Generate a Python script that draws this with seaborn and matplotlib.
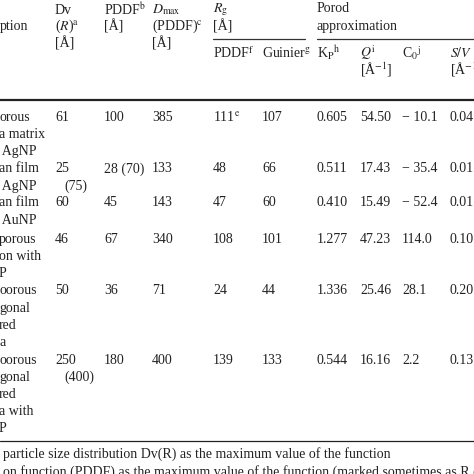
import matplotlib
matplotlib.use("Agg")
import matplotlib.pyplot as plt
import seaborn as sns

sns.set_theme(style="white")
plt.rcParams['font.family'] = ['Liberation Serif', 'DejaVu Serif']
plt.rcParams['mathtext.fontset'] = 'stix'

col_x = [55, 104, 152, 213, 262, 317, 360, 402, 450]
dv = ["61", "25", "60", "46", "50", "250"]
dv2 = ["", "(75)", "", "", "", "(400)"]
pddf = ["100", "28 (70)", "45", "67", "36", "180"]
dmax = ["385", "133", "143", "340", "71", "400"]
rg_pddf = ["111$^{\\mathrm{e}}$", "48", "47", "108", "24", "139"]
rg_guinier = ["107", "66", "60", "101", "44", "133"]
kp = ["0.605", "0.511", "0.410", "1.277", "1.336", "0.544"]
q = ["54.50", "17.43", "15.49", "47.23", "25.46", "16.16"]
c0 = ["\u2212 10.1", "\u2212 35.4", "\u2212 52.4", "114.0", "28.1", "2.2"]
sv = ["0.04", "0.01", "0.01", "0.10", "0.20", "0.13"]
desc = [["orous", "a matrix", " AgNP"], ["an film", " AgNP"], ["an film", " AuNP"],
        ["porous", "on with", "P"], ["oorous", "gonal", "red", "a"],
        ["oorous", "gonal", "red", "a with", "P"]]
row_y = [117, 169, 203, 239, 291, 360]
lh = 17.2
footnotes = ["particle size distribution Dv(R) as the maximum value of the function",
             "on function (PDDF) as the maximum value of the function (marked sometimes as R or D)"]

fig = plt.figure(figsize=(4.74, 4.74), dpi=100)
ax = fig.add_axes([0, 0, 1, 1])
ax.set_xlim(0, 474); ax.set_ylim(474, 0); ax.axis('off')
fs = 10
kw = dict(fontsize=fs, color='#222222', va='center', ha='left')

# header
ax.text(0, 26, "ption", **kw)
ax.text(col_x[0], 10, "Dv", **kw)
ax.text(col_x[0], 26, "($R$)$^{\\mathrm{a}}$", **kw)
ax.text(col_x[0], 43, "[Å]", **kw)
ax.text(col_x[1], 10, "PDDF$^{\\mathrm{b}}$", **kw)
ax.text(col_x[1], 26, "[Å]", **kw)
ax.text(col_x[2], 10, "$D_{\\mathrm{max}}$", **kw)
ax.text(col_x[2], 26, "(PDDF)$^{\\mathrm{c}}$", **kw)
ax.text(col_x[2], 43, "[Å]", **kw)
ax.text(col_x[3], 10, "$R_{\\mathrm{g}}$", **kw)
ax.text(col_x[3], 26, "[Å]", **kw)
ax.text(col_x[5], 8, "Porod", **kw)
ax.text(col_x[5], 26, "approximation", **kw)
ax.plot([213, 305], [39, 39], color='#333333', lw=0.9)
ax.plot([317, 474], [39, 39], color='#333333', lw=0.9)
ax.text(col_x[3], 53, "PDDF$^{\\mathrm{f}}$", **kw)
ax.text(col_x[4], 53, "Guinier$^{\\mathrm{g}}$", **kw)
ax.text(col_x[5], 53, "K$_{\\mathrm{P}}$$^{\\mathrm{h}}$", **kw)
ax.text(col_x[6], 53, "$Q^{\\mathrm{i}}$", **kw)
ax.text(col_x[6], 70, "[Å$^{-1}$]", **kw)
ax.text(col_x[7], 53, "C$_{0}$$^{\\mathrm{j}}$", **kw)
ax.text(col_x[8], 53, "$S/V$", **kw)
ax.text(col_x[8], 70, "[Å$^{-1}$", **kw)
ax.plot([0, 474], [100, 100], color='#222222', lw=1.6)

cols = [dv, pddf, dmax, rg_pddf, rg_guinier, kp, q, c0, sv]
for i, y in enumerate(row_y):
    for j, c in enumerate(cols):
        ax.text(col_x[j], y, c[i], **kw)
    if dv2[i]:
        ax.text(col_x[0] + 9, y + lh, dv2[i], **kw)
    for k, d in enumerate(desc[i]):
        ax.text(-1, y + k * lh, d, **kw)

ax.plot([0, 474], [441, 441], color='#222222', lw=0.9)
ax.text(3, 454, footnotes[0], **kw)
ax.text(3, 472, footnotes[1], **kw)

fig.savefig("out.png", dpi=100)
